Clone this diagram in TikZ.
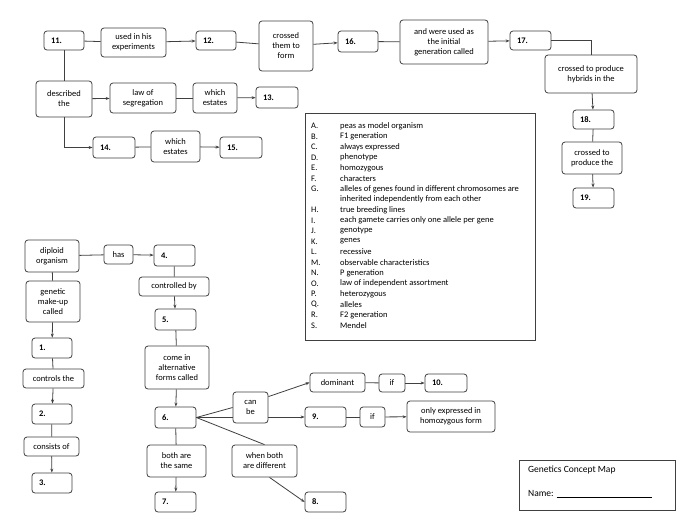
\documentclass[tikz,border=0pt]{standalone}
\usepackage{fontspec}
\setmainfont{Carlito}
\usetikzlibrary{arrows.meta}
\begin{document}
\begin{tikzpicture}[x=1pt,y=-1pt,
  box/.style={draw=black!75,line width=0.8pt,rounded corners=3pt,inner sep=0pt,align=center,font=\fontsize{8.5}{10}\selectfont},
  ln/.style={draw=black!75,line width=0.8pt},
  ar/.style={ln,-{Stealth[length=4pt,width=3pt]}}]
\newcommand\bx[6]{\pgfmathsetmacro\cx{(#2+#4)/2}\pgfmathsetmacro\cy{(#3+#5)/2}\pgfmathsetmacro\ww{#4-#2}\pgfmathsetmacro\hh{#5-#3}\node[box,minimum width=\ww pt,minimum height=\hh pt] (#1) at (\cx,\cy) {#6};}
\newcommand\nb[6]{\pgfmathsetmacro\cx{(#2+#4)/2}\pgfmathsetmacro\cy{(#3+#5)/2}\pgfmathsetmacro\ww{#4-#2}\pgfmathsetmacro\hh{#5-#3}\pgfmathsetmacro\tw{#4-#2-14}\node[box,minimum width=\ww pt,minimum height=\hh pt,text width=\tw pt,align=left] (#1) at (\cx,\cy) {\textbf{#6}};}
\useasboundingbox (0,0) rectangle (700,525);
\fill[white] (0,0) rectangle (700,525);
% top
\nb{n11}{44}{31}{84}{50}{11.}
\bx{used}{101}{28}{166}{57}{used in his\\experiments}
\nb{n12}{196}{31}{236}{50}{12.}
\bx{crossA}{259}{21}{313}{71}{crossed\\them to\\form}
\nb{n16}{338}{31}{378}{52}{16.}
\bx{initial}{400}{20}{488}{64}{and were used as\\the initial\\generation called}
\nb{n17}{510}{31}{551}{50}{17.}
\bx{hyb}{545}{55}{637}{93}{crossed to produce\\hybrids in the}
\nb{n18}{573}{110}{614}{129}{18.}
\bx{crossB}{562}{142}{622}{174}{crossed to\\produce the}
\nb{n19}{573}{188}{614}{208}{19.}
\bx{desc}{36}{81}{92}{117}{described\\the}
\bx{law}{110}{83}{176}{113}{law of\\segregation}
\bx{which1}{193}{83}{237}{113}{which\\estates}
\nb{n13}{256}{87}{298}{108}{13.}
\nb{n14}{93}{137}{135}{158}{14.}
\bx{which2}{151}{131}{200}{162}{which\\estates}
\nb{n15}{220}{137}{262}{158}{15.}
\draw[ln] (n11) -- (used); \draw[ar] (used) -- (n12);
\draw[ln] (n12) -- (crossA); \draw[ar] (crossA) -- (n16);
\draw[ln] (n16) -- (initial); \draw[ar] (initial) -- (n17);
\draw[ln] (n17.east) -| (hyb.north);
\draw[ar] (hyb) -- (n18); \draw[ln] (n18) -- (crossB); \draw[ar] (crossB) -- (n19);
\draw[ln] (n11) -- (desc);
\draw[ar] (desc.south) |- (n14.west);
\draw[ar] (desc) -- (law); \draw[ln] (law) -- (which1); \draw[ar] (which1) -- (n13);
\draw[ln] (n14) -- (which2); \draw[ar] (which2) -- (n15);
% legend
\node[draw=black!75,line width=0.8pt,minimum width=230pt,minimum height=227pt,inner sep=0pt] (legend) at (420,226.5) {};
\foreach \l/\t [count=\i] in {A./peas as model organism,B./F1 generation,C./always expressed,D./phenotype,E./homozygous,F./characters,G./alleles of genes found in different chromosomes are,/inherited independently from each other,H./true breeding lines,I./each gamete carries only one allele per gene,J./genotype,K./genes,L./recessive,M./observable characteristics,N./P generation,O./law of independent assortment,P./heterozygous,Q./alleles,R./F2 generation,S./Mendel}{
  \node[anchor=west,inner sep=0pt,font=\fontsize{8.5}{10}\selectfont] (ll\i) at (311,115.5+10.5*\i) {\l};
  \node[anchor=west,inner sep=0pt,font=\fontsize{8.5}{10}\selectfont] (lt\i) at (340,115.5+10.5*\i) {\t};
}
% bottom left
\bx{dip}{25}{240}{79}{272}{diploid\\organism}
\bx{has}{104}{245}{133}{264}{has}
\nb{n4}{154}{245}{195}{266}{4.}
\bx{gen}{26}{281}{80}{322}{genetic\\make-up\\called}
\nb{n1}{32}{338}{72}{358}{1.}
\bx{ctrl}{23}{369}{84}{388}{controls the}
\nb{n2}{32}{404}{72}{424}{2.}
\bx{cons}{24}{437}{79}{456}{consists of}
\nb{n3}{32}{473}{72}{493}{3.}
\bx{ctrlby}{139}{277}{209}{296}{controlled by}
\nb{n5}{155}{309}{196}{330}{5.}
\bx{come}{145}{346}{209}{389}{come in\\alternative\\forms called}
\nb{n6}{155}{407}{196}{428}{6.}
\bx{canbe}{233}{392}{268}{423}{can\\be}
\bx{dom}{310}{373}{365}{392}{dominant}
\bx{if1}{379}{374}{405}{392}{if}
\nb{n10}{425}{374}{467}{392}{10.}
\nb{n9}{305}{407}{346}{427}{9.}
\bx{if2}{360}{407}{385}{427}{if}
\bx{only}{407}{401}{495}{432}{only expressed in\\homozygous form}
\bx{same}{147}{445}{206}{477}{both are\\the same}
\bx{diff}{232}{445}{297}{477}{when both\\are different}
\nb{n7}{155}{492}{196}{512}{7.}
\nb{n8}{305}{492}{346}{512}{8.}
\draw[ln] (dip) -- (has); \draw[ar] (has) -- (n4);
\draw[ln] (dip) -- (gen); \draw[ar] (gen) -- (n1);
\draw[ln] (n1) -- (ctrl); \draw[ar] (ctrl) -- (n2);
\draw[ln] (n2) -- (cons); \draw[ar] (cons) -- (n3);
\draw[ln] (n4) -- (ctrlby); \draw[ar] (ctrlby) -- (n5);
\draw[ln] (n5) -- (come); \draw[ar] (come) -- (n6);
\draw[ln] (n6.east) -- (canbe.west);
\draw[ln] (n6.east) -- (canbe.west |- n6.east);
\draw[ar] (canbe.north east) ++(0,5) -- (dom.west);
\draw[ar] (canbe.east |- n9.west) -- (n9.west);
\draw[ln] (dom) -- (if1); \draw[ar] (if1) -- (n10);
\draw[ln] (n9) -- (if2); \draw[ar] (if2) -- (only);
\draw[ln] (n6) -- (same); \draw[ar] (same) -- (n7);
\draw[ln] (n6.east) -- (diff.north);
\draw[ar] (diff.south) ++(5,0) -- (n8.west);
% title box
\node[draw=black!75,line width=0.8pt,minimum width=156pt,minimum height=50pt,inner sep=0pt] (title) at (597,485) {};
\node[anchor=west,inner sep=0pt,font=\fontsize{9.5}{11}\selectfont] (tt) at (528,470) {Genetics Concept Map};
\node[anchor=west,inner sep=0pt,font=\fontsize{9.5}{11}\selectfont] (nm) at (528,494) {Name: \rule[-1pt]{95pt}{0.5pt}};
\end{tikzpicture}
\end{document}
